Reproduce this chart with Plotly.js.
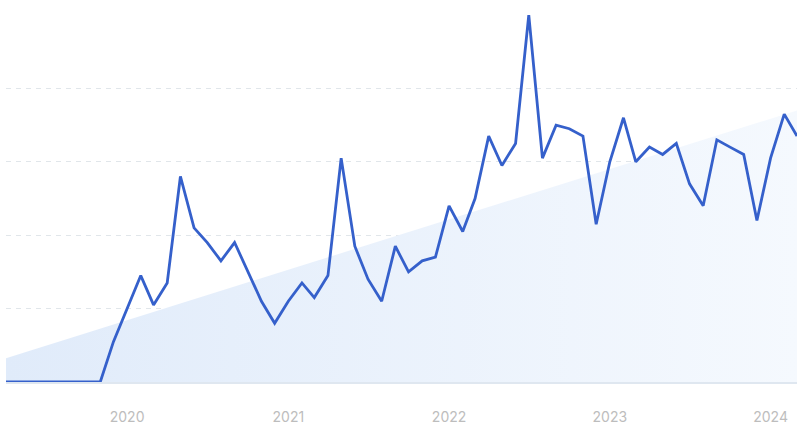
<!DOCTYPE html>
<html>
<head>
<meta charset="utf-8">
<script src="https://cdn.plot.ly/plotly-3.0.1.min.js"></script>
<style>html,body{margin:0;padding:0;background:#fff;}#chart{width:805px;height:428px;}</style>
</head>
<body>
<div id="chart"></div>
<script>
const months = [
  "2019-04-01","2019-05-01","2019-06-01","2019-07-01","2019-08-01","2019-09-01","2019-10-01","2019-11-01","2019-12-01",
  "2020-01-01","2020-02-01","2020-03-01","2020-04-01","2020-05-01","2020-06-01","2020-07-01","2020-08-01","2020-09-01","2020-10-01","2020-11-01","2020-12-01",
  "2021-01-01","2021-02-01","2021-03-01","2021-04-01","2021-05-01","2021-06-01","2021-07-01","2021-08-01","2021-09-01","2021-10-01","2021-11-01","2021-12-01",
  "2022-01-01","2022-02-01","2022-03-01","2022-04-01","2022-05-01","2022-06-01","2022-07-01","2022-08-01","2022-09-01","2022-10-01","2022-11-01","2022-12-01",
  "2023-01-01","2023-02-01","2023-03-01","2023-04-01","2023-05-01","2023-06-01","2023-07-01","2023-08-01","2023-09-01","2023-10-01","2023-11-01","2023-12-01",
  "2024-01-01","2024-02-01","2024-03-01"
];
const interest = [
  0,0,0,0,0,0,0,0,11,
  20,29,21,27,56,42,38,33,38,30,22,16,
  22,27,23,29,61,37,28,22,37,30,33,34,
  48,41,50,67,59,65,100,61,70,69,67,43,
  60,72,60,64,62,65,54,48,66,64,62,44,
  61,73,67
];
const trendX = ["2019-04-01","2024-03-01"];
const trendY = [6.5, 74];
const tickVals = ["2020-01-01","2021-01-01","2022-01-01","2023-01-01","2024-01-01"];
const tickText = ["2020","2021","2022","2023","2024"];

const traces = [
  {
    x: trendX, y: trendY, type: "scatter", mode: "lines",
    line: {width: 0, color: "rgba(0,0,0,0)"},
    fill: "tozeroy",
    fillgradient: {type: "horizontal", colorscale: [[0, "rgba(224,235,250,1)"], [1, "rgba(245,249,254,1)"]]},
    hoverinfo: "skip", showlegend: false
  },
  {
    x: months, y: interest, type: "scatter", mode: "lines",
    line: {color: "#3560cb", width: 2.8},
    cliponaxis: false, showlegend: false
  }
];

const layout = {
  width: 805, height: 428,
  margin: {l: 6, r: 8, t: 14.5, b: 45.5},
  paper_bgcolor: "#ffffff", plot_bgcolor: "#ffffff",
  font: {family: "Inter, 'Noto Sans', sans-serif", color: "#bdbdbd", size: 14},
  xaxis: {
    type: "date", range: ["2019-04-01", "2024-03-01"],
    tickvals: tickVals, ticktext: tickText,
    showgrid: false, zeroline: false,
    showline: true, linecolor: "#dfe7f0", linewidth: 1.5,
    ticks: "outside", ticklen: 22, tickcolor: "rgba(0,0,0,0)",
    tickfont: {size: 14, color: "#bdbdbd"}
  },
  yaxis: {
    range: [0, 100], dtick: 20, showticklabels: false,
    showgrid: true, gridcolor: "#e1e6ea", griddash: "5px,5px", gridwidth: 1,
    zeroline: false, fixedrange: true
  }
};

Plotly.newPlot("chart", traces, layout, {displayModeBar: false, staticPlot: true});
</script>
</body>
</html>
